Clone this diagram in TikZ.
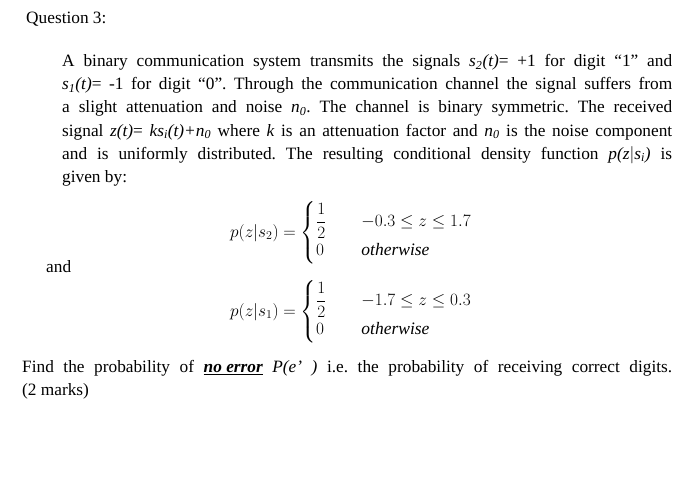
\documentclass[tikz,border=0pt]{standalone}
\usepackage{amsmath}
\usepackage{fontspec}
\setmainfont{Liberation Serif}
\frenchspacing
\begin{document}
\begin{tikzpicture}[x=1pt,y=-1pt,
  ln/.style={anchor=base west,inner sep=0pt,font=\fontsize{17.3}{20}\selectfont},
  eq/.style={anchor=west,inner sep=0pt,font=\fontsize{17.5}{20}\selectfont}]
\useasboundingbox (0,0) rectangle (700,484);
\fill[white] (0,0) rectangle (700,484);
\node[ln] (q) at (26,24) {Question 3:};
\node[ln] (l1) at (62,67) {\makebox[610pt][s]{A binary communication system transmits the signals \textit{s\textsubscript{2}(t)}= +1 for digit “1” and}};
\node[ln] (l2) at (62,90) {\makebox[610pt][s]{\textit{s\textsubscript{1}(t)}= -1 for digit “0”. Through the communication channel the signal suffers from}};
\node[ln] (l3) at (62,113) {\makebox[610pt][s]{a slight attenuation and noise \textit{n\textsubscript{0}}. The channel is binary symmetric. The received}};
\node[ln] (l4) at (62,136) {\makebox[610pt][s]{signal \textit{z(t)}= \textit{ks\textsubscript{i}(t)+n\textsubscript{0}} where \textit{k} is an attenuation factor and \textit{n\textsubscript{0}} is the noise component}};
\node[ln] (l5) at (62,159) {\makebox[610pt][s]{and is uniformly distributed. The resulting conditional density function \textit{p(z$|$s\textsubscript{i})} is}};
\node[ln] (l6) at (62,182) {given by:};
\node[eq] (e1) at (230,233)
 {$p(z|s_2)=\begin{cases}\dfrac{1}{2} & \quad -0.3\le z\le 1.7\\[4pt] 0 & \quad \mathit{otherwise}\end{cases}$};
\node[ln] (and) at (46,272) {and};
\node[eq] (e2) at (230,312)
 {$p(z|s_1)=\begin{cases}\dfrac{1}{2} & \quad -1.7\le z\le 0.3\\[4pt] 0 & \quad \mathit{otherwise}\end{cases}$};
\node[ln] (f1) at (22,372) {\makebox[650pt][s]{Find the probability of \textbf{\textit{\underline{no error}}} \textit{P(e’ )} i.e. the probability of receiving correct digits.}};
\node[ln] (f2) at (22,395) {(2 marks)};
\end{tikzpicture}
\end{document}
